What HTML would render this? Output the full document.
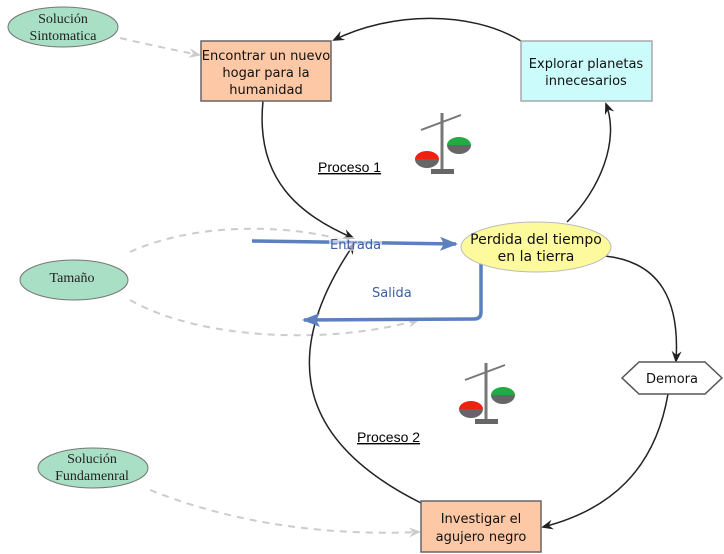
<!DOCTYPE html>
<html><head><meta charset="utf-8"><style>
body{margin:0;background:#fff;}
svg{display:block;}
.c{font-family:"Comic Sans MS","DejaVu Sans",sans-serif;font-size:13px;fill:#111;}
.s{font-family:"Liberation Serif",serif;font-size:14px;fill:#222;}
.a{font-family:"Liberation Sans",sans-serif;font-size:14px;fill:#000;text-decoration:underline;}
</style></head><body>
<svg width="724" height="554" viewBox="0 0 724 554" xmlns="http://www.w3.org/2000/svg">
<defs>
<marker id="ak" markerWidth="12" markerHeight="10" refX="10" refY="5" orient="auto" markerUnits="userSpaceOnUse"><path d="M0,0 L12,5 L0,10 L4,5 z" fill="#222"/></marker>
<marker id="ag" markerWidth="12" markerHeight="10" refX="10" refY="5" orient="auto" markerUnits="userSpaceOnUse"><path d="M0,0 L12,5 L0,10 L4,5 z" fill="#ccc"/></marker>
<marker id="ab" markerWidth="18" markerHeight="14" refX="16" refY="7" orient="auto" markerUnits="userSpaceOnUse"><path d="M0,0 L18,7 L0,14 L4,7 z" fill="#5b7fbf"/></marker>
<g id="scale">
<line x1="0" y1="17" x2="40" y2="2" stroke="#777" stroke-width="2"/>
<line x1="21" y1="0" x2="21" y2="58" stroke="#777" stroke-width="3"/>
<rect x="10" y="56" width="23" height="5" fill="#666"/>
<path d="M-6,46 a12,8 0 0 1 24,0 z" fill="#e21"/>
<path d="M-6,46 h24 a12,9 0 0 1 -24,0 z" fill="#666"/>
<path d="M26,32 a12,8 0 0 1 24,0 z" fill="#2a4"/>
<path d="M26,32 h24 a12,9 0 0 1 -24,0 z" fill="#666"/>
</g>
</defs>

<g fill="none" stroke="#ccc" stroke-width="2" stroke-dasharray="7,6">
<path d="M120,38 C150,45 175,50 199,55" marker-end="url(#ag)"/>
<path d="M130,252 C200,220 300,225 352,243" marker-end="url(#ag)"/>
<path d="M130,300 C200,340 330,345 418,320" marker-end="url(#ag)"/>
<path d="M150,490 C250,530 350,535 419,532" marker-end="url(#ag)"/>
</g>

<g fill="none" stroke="#222" stroke-width="1.5">
<path d="M521,41 C470,10 390,12 334,40" marker-end="url(#ak)"/>
<path d="M263,101 C255,180 300,215 353,238" marker-end="url(#ak)"/>
<path d="M567,222 C600,190 620,140 606,104" marker-end="url(#ak)"/>
<path d="M605,256 C660,262 680,300 676,361" marker-end="url(#ak)"/>
<path d="M668,394 C655,470 610,510 543,527" marker-end="url(#ak)"/>
<path d="M421,503 C315,450 268,370 354,244" marker-end="url(#ak)"/>
</g>

<g fill="none" stroke="#5b7fbf" stroke-width="3.5">
<path d="M252,241 L456,244" marker-end="url(#ab)"/>
<path d="M481,264 L481,312 Q481,319 474,319 L304,320" marker-end="url(#ab)"/>
</g>
<rect x="329" y="237" width="53" height="14" fill="#fff" opacity="0.6"/>
<text x="330" y="249" class="c" style="fill:#3b5ea6">Entrada</text>
<text x="372" y="297" class="c" style="fill:#3b5ea6">Salida</text>

<rect x="201" y="41" width="130" height="60" fill="#fdc8a6" stroke="#666" stroke-width="1.5"/>
<text class="c" text-anchor="middle"><tspan x="266" y="60">Encontrar un nuevo</tspan><tspan x="266" y="77">hogar para la</tspan><tspan x="266" y="94">humanidad</tspan></text>
<rect x="521" y="41" width="131" height="60" fill="#ccfbfb" stroke="#aaa" stroke-width="1.5"/>
<text class="c" text-anchor="middle"><tspan x="586" y="68">Explorar planetas</tspan><tspan x="586" y="85">innecesarios</tspan></text>
<ellipse cx="536" cy="247" rx="75" ry="25" fill="#fcfa9c" stroke="#bbb"/>
<text class="c" text-anchor="middle" style="font-size:14px"><tspan x="536" y="244">Perdida del tiempo</tspan><tspan x="536" y="261">en la tierra</tspan></text>
<polygon points="622,378 639,362 705,362 722,378 705,394 639,394" fill="#fff" stroke="#555" stroke-width="1.5"/>
<text x="672" y="383" class="c" text-anchor="middle">Demora</text>
<rect x="421" y="501" width="120" height="51" fill="#fdc8a6" stroke="#666" stroke-width="1.5"/>
<text class="c" text-anchor="middle"><tspan x="481" y="523">Investigar el</tspan><tspan x="481" y="541">agujero negro</tspan></text>

<g fill="#a9dfc5" stroke="#777" stroke-width="1">
<ellipse cx="63" cy="27" rx="55" ry="20"/>
<ellipse cx="74" cy="280" rx="54" ry="20"/>
<ellipse cx="93" cy="468" rx="55" ry="20"/>
</g>
<text class="s" text-anchor="middle"><tspan x="63" y="23">Solución</tspan><tspan x="63" y="40">Sintomatica</tspan></text>
<text x="72" y="282" class="s" text-anchor="middle">Tamaño</text>
<text class="s" text-anchor="middle"><tspan x="92" y="463">Solución</tspan><tspan x="92" y="480">Fundamenral</tspan></text>

<text x="318" y="172" class="a">Proceso 1</text>
<text x="357" y="442" class="a">Proceso 2</text>

<use href="#scale" x="421" y="113"/>
<use href="#scale" x="465" y="363"/>
</svg>
</body></html>
